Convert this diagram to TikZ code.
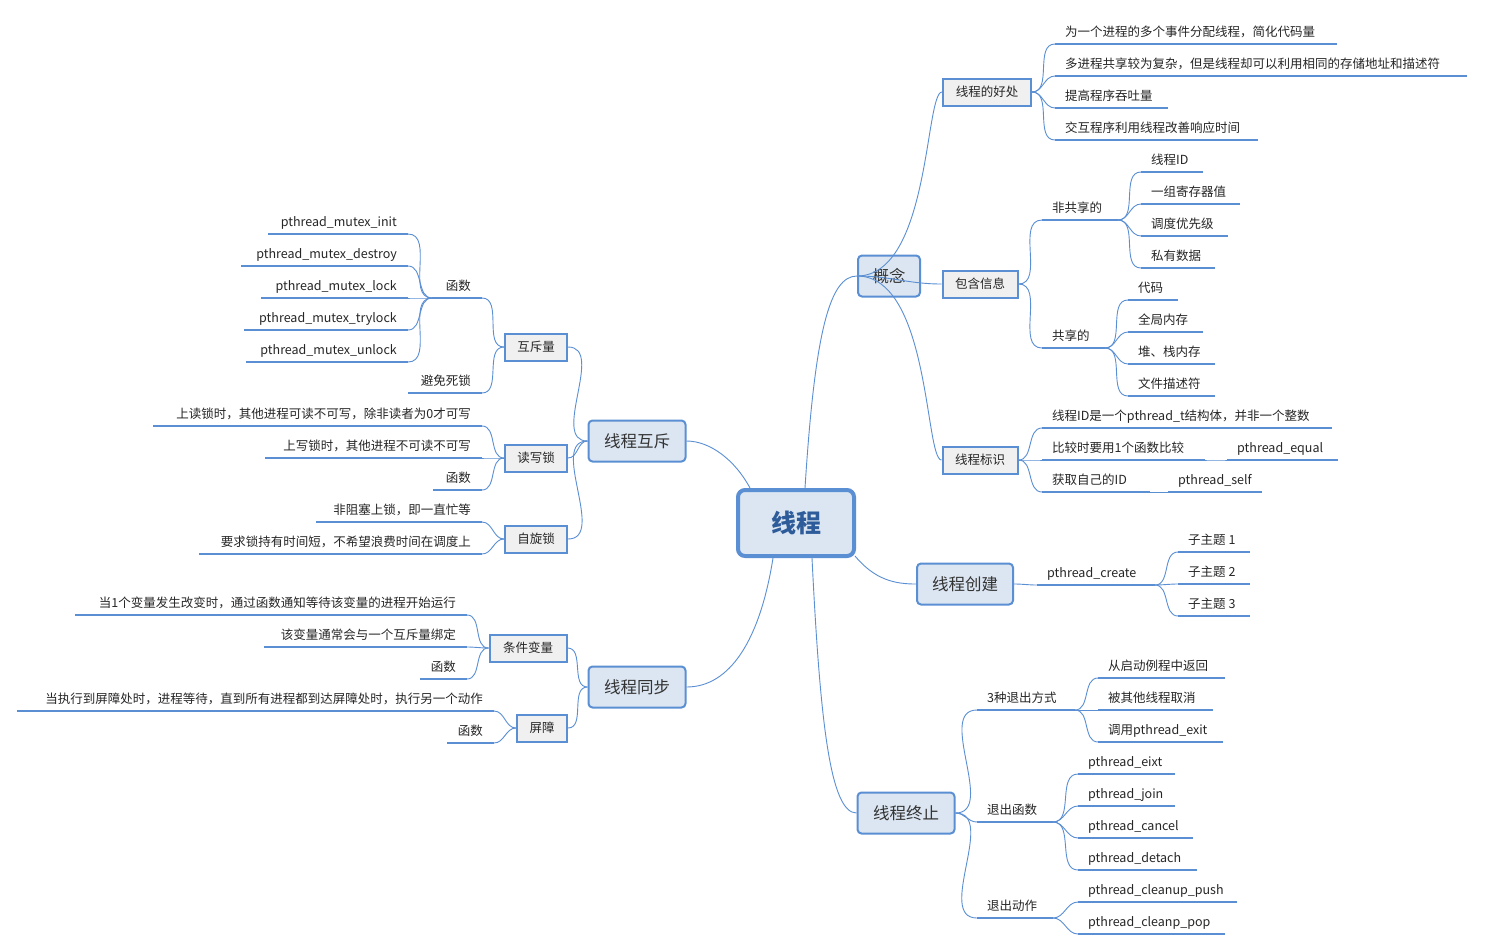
\documentclass[tikz,border=0pt]{standalone}
\usepackage{fontspec}
\setmainfont{Noto Sans CJK SC}
\definecolor{lb}{HTML}{5B8FD3}
\definecolor{fillb}{HTML}{DCE6F2}
\definecolor{fillg}{HTML}{F0F0F0}
\definecolor{ct}{HTML}{2E5C9A}
\tikzset{
 conn/.style={draw=lb,line width=0.9pt},
 uline/.style={draw=lb,line width=2.6pt},
 leaf/.style={inner sep=0pt,text=black!85,font=\fontsize{12.5}{14}\selectfont},
 boxg/.style={draw=lb,line width=2pt,fill=fillg,minimum height=27pt,inner xsep=4pt,text=black!85,font=\fontsize{12.5}{14}\selectfont},
 boxb/.style={draw=lb,line width=2pt,fill=fillb,rounded corners=4pt,minimum height=41pt,text=black!80,font=\fontsize{16.5}{18}\selectfont},
}
\newcommand\R[6]{\coordinate (#1s) at (#3,#5);\coordinate (#1e) at (#4,#5);
 \draw[uline] (#1s) -- (#1e);
 \node[leaf,anchor=base west] (#1) at (#3+10,#5-8) {#6};
 \draw[conn] (#2) to[out=0,in=180] (#1s);}
\newcommand\Lf[6]{\coordinate (#1s) at (#3,#5);\coordinate (#1e) at (#4,#5);
 \draw[uline] (#1s) -- (#1e);
 \node[leaf,anchor=base east] (#1) at (#4-11,#5-8) {#6};
 \draw[conn] (#2) to[out=180,in=0] (#1e);}
\begin{document}
\begin{tikzpicture}[x=1pt,y=-1pt]
\useasboundingbox[fill=white] (0,0) rectangle (1485,951);
% center
\node[draw=lb,line width=4pt,fill=fillb,rounded corners=7pt,minimum width=116pt,minimum height=66pt,text=ct,font=\fontsize{25}{28}\selectfont\bfseries] (c) at (796,523) {线程};
\node[boxb,minimum width=62pt] (gn) at (889,276) {概念};
\node[boxb,minimum width=97pt] (hc) at (637,441) {线程互斥};
\node[boxb,minimum width=96pt] (cj) at (965,584) {线程创建};
\node[boxb,minimum width=97pt] (tb) at (637,687) {线程同步};
\node[boxb,minimum width=97pt] (zz) at (906,813) {线程终止};
\coordinate (c1) at (805,488);\coordinate (c2) at (750,488);
\coordinate (c3) at (855,556);\coordinate (c4) at (773,558);\coordinate (c5) at (812,558);
\draw[conn] (c1) .. controls (815,330) and (830,276) .. (gn.west);
\draw[conn] (c2) .. controls (735,460) and (710,441) .. (hc.east);
\draw[conn] (c3) .. controls (875,580) and (895,584) .. (cj.west);
\draw[conn] (c4) .. controls (760,640) and (730,687) .. (tb.east);
\draw[conn] (c5) .. controls (820,720) and (830,813) .. (zz.west);
% level 3 boxes
\node[boxg,minimum width=88pt] (hh) at (987,92) {线程的好处};
\node[boxg,minimum width=75pt] (bx) at (980,284) {包含信息};
\node[boxg,minimum width=75pt] (bs) at (980,460) {线程标识};
\node[boxg,minimum width=62pt] (hcl) at (536,347) {互斥量};
\node[boxg,minimum width=62pt] (dx) at (536,458) {读写锁};
\node[boxg,minimum width=62pt] (zx) at (536,539) {自旋锁};
\node[boxg,minimum width=77pt] (tj) at (528,648) {条件变量};
\node[boxg,minimum width=50pt] (pz) at (542,728) {屏障};
\foreach \a in {hh,bx,bs}{\draw[conn] (gn.west) to[out=180,in=180,looseness=0] (gn.west);}
\draw[conn] (gn.west) .. controls (930,276) and (925,92) .. (hh.west);
\draw[conn] (gn.west) to[out=0,in=180] (bx.west);
\draw[conn] (gn.west) .. controls (930,276) and (925,460) .. (bs.west);
\draw[conn] (hc.west) to[out=180,in=0] (hcl.east);
\draw[conn] (hc.west) to[out=180,in=0] (dx.east);
\draw[conn] (hc.west) to[out=180,in=0] (zx.east);
\draw[conn] (tb.west) to[out=180,in=0] (tj.east);
\draw[conn] (tb.west) to[out=180,in=0] (pz.east);
% 线程的好处
\R{a1}{hh.east}{1055}{1337}{44}{为一个进程的多个事件分配线程，简化代码量}
\R{a2}{hh.east}{1055}{1467}{76}{多进程共享较为复杂，但是线程却可以利用相同的存储地址和描述符}
\R{a3}{hh.east}{1055}{1168}{108}{提高程序吞吐量}
\R{a4}{hh.east}{1055}{1258}{140}{交互程序利用线程改善响应时间}
% 包含信息
\R{fg}{bx.east}{1042}{1118}{220}{非共享的}
\R{gx}{bx.east}{1042}{1105}{348}{共享的}
\R{b1}{fge}{1141}{1203}{172}{线程ID}
\R{b2}{fge}{1141}{1240}{204}{一组寄存器值}
\R{b3}{fge}{1141}{1228}{236}{调度优先级}
\R{b4}{fge}{1141}{1215}{268}{私有数据}
\R{d1}{gxe}{1128}{1178}{300}{代码}
\R{d2}{gxe}{1128}{1203}{332}{全局内存}
\R{d3}{gxe}{1128}{1215}{364}{堆、栈内存}
\R{d4}{gxe}{1128}{1215}{396}{文件描述符}
% 线程标识
\R{e1}{bs.east}{1042}{1332}{428}{线程ID是一个pthread\_t结构体，并非一个整数}
\R{e2}{bs.east}{1042}{1205}{460}{比较时要用1个函数比较}
\R{e3}{bs.east}{1042}{1150}{492}{获取自己的ID}
\R{e4}{e2e}{1227}{1338}{460}{pthread\_equal}
\R{e5}{e3e}{1168}{1262}{492}{pthread\_self}
% 线程创建
\R{pc}{cj.east}{1037}{1155}{585}{pthread\_create}
\R{f1}{pce}{1178}{1250}{552}{子主题 1}
\R{f2}{pce}{1178}{1250}{584}{子主题 2}
\R{f3}{pce}{1178}{1250}{616}{子主题 3}
% 线程终止
\R{ty}{zz.east}{977}{1075}{710}{3种退出方式}
\R{th}{zz.east}{977}{1053}{822}{退出函数}
\R{td}{zz.east}{977}{1053}{918}{退出动作}
\R{g1}{tye}{1098}{1225}{678}{从启动例程中返回}
\R{g2}{tye}{1098}{1213}{710}{被其他线程取消}
\R{g3}{tye}{1098}{1223}{742}{调用pthread\_exit}
\R{h1}{the}{1078}{1175}{774}{pthread\_eixt}
\R{h2}{the}{1078}{1175}{806}{pthread\_join}
\R{h3}{the}{1078}{1193}{838}{pthread\_cancel}
\R{h4}{the}{1078}{1197}{870}{pthread\_detach}
\R{i1}{tde}{1078}{1237}{902}{pthread\_cleanup\_push}
\R{i2}{tde}{1078}{1225}{934}{pthread\_cleanp\_pop}
% 互斥量
\Lf{hs}{hcl.west}{432}{482}{298}{函数}
\Lf{bm}{hcl.west}{408}{482}{393}{避免死锁}
\Lf{j1}{hss}{268}{408}{234}{pthread\_mutex\_init}
\Lf{j2}{hss}{241}{408}{266}{pthread\_mutex\_destroy}
\Lf{j3}{hss}{261}{408}{298}{pthread\_mutex\_lock}
\Lf{j4}{hss}{244}{408}{330}{pthread\_mutex\_trylock}
\Lf{j5}{hss}{246}{408}{362}{pthread\_mutex\_unlock}
% 读写锁
\Lf{k1}{dx.west}{153}{482}{426}{上读锁时，其他进程可读不可写，除非读者为0才可写}
\Lf{k2}{dx.west}{265}{482}{458}{上写锁时，其他进程不可读不可写}
\Lf{k3}{dx.west}{433}{482}{490}{函数}
% 自旋锁
\Lf{l1}{zx.west}{316}{482}{522}{非阻塞上锁，即一直忙等}
\Lf{l2}{zx.west}{199}{482}{554}{要求锁持有时间短，不希望浪费时间在调度上}
% 条件变量
\Lf{m1}{tj.west}{75}{467}{615}{当1个变量发生改变时，通过函数通知等待该变量的进程开始运行}
\Lf{m2}{tj.west}{264}{467}{647}{该变量通常会与一个互斥量绑定}
\Lf{m3}{tj.west}{420}{467}{679}{函数}
% 屏障
\Lf{n1}{pz.west}{17}{494}{711}{当执行到屏障处时，进程等待，直到所有进程都到达屏障处时，执行另一个动作}
\Lf{n2}{pz.west}{447}{494}{743}{函数}
\end{tikzpicture}
\end{document}
